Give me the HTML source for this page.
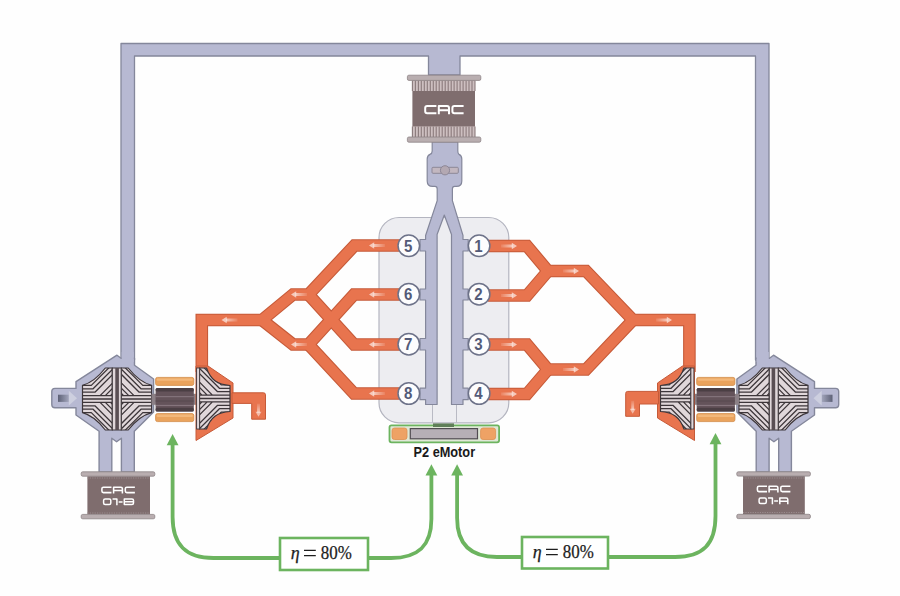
<!DOCTYPE html>
<html><head><meta charset="utf-8"><title>Turbo diagram</title>
<style>html,body{margin:0;padding:0;background:#fefefe;}body{width:900px;height:596px;overflow:hidden;font-family:"Liberation Sans",sans-serif;}svg{display:block}</style>
</head><body>
<svg width="900" height="596" viewBox="0 0 900 596">
<defs>
<linearGradient id="ga" x1="0" x2="1"><stop offset="0" stop-color="#fff" stop-opacity="0.1"/><stop offset="1" stop-color="#fff" stop-opacity="0.6"/></linearGradient>
<linearGradient id="gin" x1="0" x2="1"><stop offset="0" stop-color="#5d6176"/><stop offset="1" stop-color="#a4a7bd"/></linearGradient>
</defs>
<rect width="900" height="596" fill="#fefefe"/>
<rect x="379" y="217.5" width="129.8" height="205.3" rx="20" fill="#ededf1" stroke="#b4b5c0" stroke-width="1.2"/>
<path d="M432.5,404V422.5M456.5,404V422.5" stroke="#b9bac4" stroke-width="1" fill="none"/>
<path d="M121,43.5H769V360H755.5V56H460V75H428.5V56H134.5V360H121Z" fill="#b7b9d2" stroke="#84879b" stroke-width="1.3" stroke-linejoin="round"/>
<path d="M400,245.5H354.5L308.5,294.5H293L262,320H201.8V372" fill="none" stroke="#c65a38" stroke-width="12.6" stroke-linejoin="miter"/>
<path d="M400,344.5H354L308.5,294.5" fill="none" stroke="#c65a38" stroke-width="12.6" stroke-linejoin="miter"/>
<path d="M400,294.5H354L308.5,344.5H293L262,320" fill="none" stroke="#c65a38" stroke-width="12.6" stroke-linejoin="miter"/>
<path d="M400,393.5H354L308.5,344.5" fill="none" stroke="#c65a38" stroke-width="12.6" stroke-linejoin="miter"/>
<path d="M488,246H527L548,271H586L633,320H689.4V372" fill="none" stroke="#c65a38" stroke-width="12.6" stroke-linejoin="miter"/>
<path d="M488,295.5H527L548,271" fill="none" stroke="#c65a38" stroke-width="12.6" stroke-linejoin="miter"/>
<path d="M488,344.5H527L548,369.5H586L633,320" fill="none" stroke="#c65a38" stroke-width="12.6" stroke-linejoin="miter"/>
<path d="M488,394H527L548,369.5" fill="none" stroke="#c65a38" stroke-width="12.6" stroke-linejoin="miter"/>
<path d="M400,245.5H354.5L308.5,294.5H293L262,320H201.8V372" fill="none" stroke="#e8744e" stroke-width="10.399999999999999" stroke-linejoin="miter"/>
<path d="M400,344.5H354L308.5,294.5" fill="none" stroke="#e8744e" stroke-width="10.399999999999999" stroke-linejoin="miter"/>
<path d="M400,294.5H354L308.5,344.5H293L262,320" fill="none" stroke="#e8744e" stroke-width="10.399999999999999" stroke-linejoin="miter"/>
<path d="M400,393.5H354L308.5,344.5" fill="none" stroke="#e8744e" stroke-width="10.399999999999999" stroke-linejoin="miter"/>
<path d="M488,246H527L548,271H586L633,320H689.4V372" fill="none" stroke="#e8744e" stroke-width="10.399999999999999" stroke-linejoin="miter"/>
<path d="M488,295.5H527L548,271" fill="none" stroke="#e8744e" stroke-width="10.399999999999999" stroke-linejoin="miter"/>
<path d="M488,344.5H527L548,369.5H586L633,320" fill="none" stroke="#e8744e" stroke-width="10.399999999999999" stroke-linejoin="miter"/>
<path d="M488,394H527L548,369.5" fill="none" stroke="#e8744e" stroke-width="10.399999999999999" stroke-linejoin="miter"/>
<g transform="translate(369,245.5) scale(-1,1)"><rect x="-16" y="-1.5" width="11.5" height="3" fill="url(#ga)"/><path d="M-5.2,-3.2L0,0L-5.2,3.2Z" fill="#fff" opacity="0.62"/></g>
<g transform="translate(369,294.5) scale(-1,1)"><rect x="-16" y="-1.5" width="11.5" height="3" fill="url(#ga)"/><path d="M-5.2,-3.2L0,0L-5.2,3.2Z" fill="#fff" opacity="0.62"/></g>
<g transform="translate(369,344.5) scale(-1,1)"><rect x="-16" y="-1.5" width="11.5" height="3" fill="url(#ga)"/><path d="M-5.2,-3.2L0,0L-5.2,3.2Z" fill="#fff" opacity="0.62"/></g>
<g transform="translate(369,393.5) scale(-1,1)"><rect x="-16" y="-1.5" width="11.5" height="3" fill="url(#ga)"/><path d="M-5.2,-3.2L0,0L-5.2,3.2Z" fill="#fff" opacity="0.62"/></g>
<g transform="translate(291,294.5) scale(-1,1)"><rect x="-16" y="-1.5" width="11.5" height="3" fill="url(#ga)"/><path d="M-5.2,-3.2L0,0L-5.2,3.2Z" fill="#fff" opacity="0.62"/></g>
<g transform="translate(291,344.5) scale(-1,1)"><rect x="-16" y="-1.5" width="11.5" height="3" fill="url(#ga)"/><path d="M-5.2,-3.2L0,0L-5.2,3.2Z" fill="#fff" opacity="0.62"/></g>
<g transform="translate(221.5,320) scale(-1,1)"><rect x="-16" y="-1.5" width="11.5" height="3" fill="url(#ga)"/><path d="M-5.2,-3.2L0,0L-5.2,3.2Z" fill="#fff" opacity="0.62"/></g>
<g transform="translate(517,246) scale(1,1)"><rect x="-16" y="-1.5" width="11.5" height="3" fill="url(#ga)"/><path d="M-5.2,-3.2L0,0L-5.2,3.2Z" fill="#fff" opacity="0.62"/></g>
<g transform="translate(517,295.5) scale(1,1)"><rect x="-16" y="-1.5" width="11.5" height="3" fill="url(#ga)"/><path d="M-5.2,-3.2L0,0L-5.2,3.2Z" fill="#fff" opacity="0.62"/></g>
<g transform="translate(517,344.5) scale(1,1)"><rect x="-16" y="-1.5" width="11.5" height="3" fill="url(#ga)"/><path d="M-5.2,-3.2L0,0L-5.2,3.2Z" fill="#fff" opacity="0.62"/></g>
<g transform="translate(517,394) scale(1,1)"><rect x="-16" y="-1.5" width="11.5" height="3" fill="url(#ga)"/><path d="M-5.2,-3.2L0,0L-5.2,3.2Z" fill="#fff" opacity="0.62"/></g>
<g transform="translate(579,271) scale(1,1)"><rect x="-16" y="-1.5" width="11.5" height="3" fill="url(#ga)"/><path d="M-5.2,-3.2L0,0L-5.2,3.2Z" fill="#fff" opacity="0.62"/></g>
<g transform="translate(579,369.5) scale(1,1)"><rect x="-16" y="-1.5" width="11.5" height="3" fill="url(#ga)"/><path d="M-5.2,-3.2L0,0L-5.2,3.2Z" fill="#fff" opacity="0.62"/></g>
<g transform="translate(672,320) scale(1,1)"><rect x="-16" y="-1.5" width="11.5" height="3" fill="url(#ga)"/><path d="M-5.2,-3.2L0,0L-5.2,3.2Z" fill="#fff" opacity="0.62"/></g>
<path d="M432.2,142V151Q432.2,153.6 430,154.4Q427.2,155.6 427.2,159V181Q427.2,186.4 432.6,186.4H435Q437.2,186.4 437.2,189V200.6L425.6,235.5V239.5H420V251H425.6V289H420V300H425.6V338.5H420V350H425.6V388.2H420V399.7H425.6V404.5H437.1V234.5L444.3,215L451.5,234.5V404.5H463V399.7H468.2V388.2H463V350H468.2V338.5H463V300H468.2V289H463V251H468.2V239.5H463V235.5L452.4,200.6V189Q452.4,186.4 454.6,186.4H456.4Q461.8,186.4 461.8,181V159Q461.8,155.6 459,154.4Q457.8,153.6 457.8,151V142Z" fill="#b7b9d2" stroke="#84879b" stroke-width="1.2" stroke-linejoin="round"/>
<rect x="432" y="167.3" width="26.3" height="6" rx="1" fill="#c2b7c0" stroke="#8d8797" stroke-width="1"/>
<circle cx="445" cy="170.3" r="4.6" fill="#b3a8b2" stroke="#8d8797" stroke-width="1"/>
<circle cx="408.8" cy="245.8" r="10.75" fill="#fdfdfe" stroke="#6d7289" stroke-width="1.5"/>
<text transform="translate(408.2,251.70000000000002) scale(0.93,1)" text-anchor="middle" font-family="Liberation Sans, sans-serif" font-weight="700" font-size="16.2" fill="#535a78">5</text>
<circle cx="479.1" cy="245.8" r="10.75" fill="#fdfdfe" stroke="#6d7289" stroke-width="1.5"/>
<text transform="translate(478.5,251.70000000000002) scale(0.93,1)" text-anchor="middle" font-family="Liberation Sans, sans-serif" font-weight="700" font-size="16.2" fill="#535a78">1</text>
<circle cx="408.8" cy="294.2" r="10.75" fill="#fdfdfe" stroke="#6d7289" stroke-width="1.5"/>
<text transform="translate(408.2,300.09999999999997) scale(0.93,1)" text-anchor="middle" font-family="Liberation Sans, sans-serif" font-weight="700" font-size="16.2" fill="#535a78">6</text>
<circle cx="479.1" cy="294.2" r="10.75" fill="#fdfdfe" stroke="#6d7289" stroke-width="1.5"/>
<text transform="translate(478.5,300.09999999999997) scale(0.93,1)" text-anchor="middle" font-family="Liberation Sans, sans-serif" font-weight="700" font-size="16.2" fill="#535a78">2</text>
<circle cx="408.8" cy="344.2" r="10.75" fill="#fdfdfe" stroke="#6d7289" stroke-width="1.5"/>
<text transform="translate(408.2,350.09999999999997) scale(0.93,1)" text-anchor="middle" font-family="Liberation Sans, sans-serif" font-weight="700" font-size="16.2" fill="#535a78">7</text>
<circle cx="479.1" cy="344.2" r="10.75" fill="#fdfdfe" stroke="#6d7289" stroke-width="1.5"/>
<text transform="translate(478.5,350.09999999999997) scale(0.93,1)" text-anchor="middle" font-family="Liberation Sans, sans-serif" font-weight="700" font-size="16.2" fill="#535a78">3</text>
<circle cx="408.8" cy="393.5" r="10.75" fill="#fdfdfe" stroke="#6d7289" stroke-width="1.5"/>
<text transform="translate(408.2,399.4) scale(0.93,1)" text-anchor="middle" font-family="Liberation Sans, sans-serif" font-weight="700" font-size="16.2" fill="#535a78">8</text>
<circle cx="479.1" cy="393.5" r="10.75" fill="#fdfdfe" stroke="#6d7289" stroke-width="1.5"/>
<text transform="translate(478.5,399.4) scale(0.93,1)" text-anchor="middle" font-family="Liberation Sans, sans-serif" font-weight="700" font-size="16.2" fill="#535a78">4</text>
<rect x="412.4" y="80.4" width="62.60000000000002" height="56.59999999999999" fill="#7f6d6e"/>
<rect x="412.4" y="80.4" width="62.60000000000002" height="10.6" fill="#cdbfc0"/>
<path d="M412.4,80.4V91.0M415.4,80.4V91.0M418.4,80.4V91.0M421.3,80.4V91.0M424.3,80.4V91.0M427.3,80.4V91.0M430.3,80.4V91.0M433.3,80.4V91.0M436.2,80.4V91.0M439.2,80.4V91.0M442.2,80.4V91.0M445.2,80.4V91.0M448.2,80.4V91.0M451.2,80.4V91.0M454.1,80.4V91.0M457.1,80.4V91.0M460.1,80.4V91.0M463.1,80.4V91.0M466.1,80.4V91.0M469.0,80.4V91.0M472.0,80.4V91.0M475.0,80.4V91.0" stroke="#8a7a7b" stroke-width="1.1" fill="none"/>
<rect x="412.4" y="126.4" width="62.60000000000002" height="10.6" fill="#cdbfc0"/>
<path d="M412.4,126.4V137.0M415.4,126.4V137.0M418.4,126.4V137.0M421.3,126.4V137.0M424.3,126.4V137.0M427.3,126.4V137.0M430.3,126.4V137.0M433.3,126.4V137.0M436.2,126.4V137.0M439.2,126.4V137.0M442.2,126.4V137.0M445.2,126.4V137.0M448.2,126.4V137.0M451.2,126.4V137.0M454.1,126.4V137.0M457.1,126.4V137.0M460.1,126.4V137.0M463.1,126.4V137.0M466.1,126.4V137.0M469.0,126.4V137.0M472.0,126.4V137.0M475.0,126.4V137.0" stroke="#8a7a7b" stroke-width="1.1" fill="none"/>
<rect x="407.4" y="75.2" width="73.40000000000003" height="5.2" rx="1.5" fill="#b9aeb0" stroke="#8d8385" stroke-width="0.8"/>
<rect x="407.4" y="137.0" width="73.40000000000003" height="5.2" rx="1.5" fill="#b9aeb0" stroke="#8d8385" stroke-width="0.8"/>
<path d="M435.4,106.1H427.188Q425.2,106.1 425.2,108.088V111.21199999999999Q425.2,113.19999999999999 427.188,113.19999999999999H435.4M438.8,113.19999999999999V106.1H447.012Q449.0,106.1 449.0,108.088V113.19999999999999M438.8,110.36H449.0M462.6,106.1H454.38800000000003Q452.40000000000003,106.1 452.40000000000003,108.088V111.21199999999999Q452.40000000000003,113.19999999999999 454.38800000000003,113.19999999999999H462.6" fill="none" stroke="#fff" stroke-width="2.0" stroke-linejoin="round" stroke-linecap="square"/>
<rect x="389.5" y="425.3" width="109.6" height="17" rx="2" fill="#dfe8d6" stroke="#6cb45f" stroke-width="1.8"/>
<rect x="392" y="428" width="15" height="11.5" rx="2.5" fill="#eea265" stroke="#dd8f50" stroke-width="0.8"/>
<rect x="480.6" y="428" width="15" height="11.5" rx="2.5" fill="#eea265" stroke="#dd8f50" stroke-width="0.8"/>
<rect x="410.3" y="428.6" width="67.2" height="10.2" fill="#b6afb6" stroke="#514c52" stroke-width="1.2"/>
<rect x="433" y="423.4" width="21" height="3.6" fill="#5f7f58"/>
<text x="444.3" y="457.4" text-anchor="middle" font-family="Liberation Sans, sans-serif" font-weight="700" font-size="15" fill="#1a1a1a" textLength="61.6" lengthAdjust="spacingAndGlyphs">P2 eMotor</text>
<path d="M172.6,444V517C172.6,545 186,558 213.5,558H280" fill="none" stroke="#6cb45f" stroke-width="3.8"/>
<path d="M166.7,445.3L172.6,434L178.5,445.3Z" fill="#6cb45f"/>
<path d="M368,558H391C419,558 431.4,545 431.4,519V474" fill="none" stroke="#6cb45f" stroke-width="3.8"/>
<path d="M425.5,475.5L431.4,464.2L437.29999999999995,475.5Z" fill="#6cb45f"/>
<path d="M522,557H497C470,557 457.1,544 457.1,518V474" fill="none" stroke="#6cb45f" stroke-width="3.8"/>
<path d="M451.20000000000005,475.5L457.1,464.2L463.0,475.5Z" fill="#6cb45f"/>
<path d="M608,557H675C703,557 715.5,544 715.5,516V443" fill="none" stroke="#6cb45f" stroke-width="3.8"/>
<path d="M709.6,444.3L715.5,433L721.4,444.3Z" fill="#6cb45f"/>
<rect x="280" y="538" width="88" height="32" fill="#fff" stroke="#6cb45f" stroke-width="2.6"/>
<text x="290.8" y="558.8" font-family="Liberation Serif, serif" font-style="italic" font-size="18" fill="#1e1e1e" stroke="#1e1e1e" stroke-width="0.25">η</text>
<path d="M304,550.4h11.8M304,555.5999999999999h11.8" stroke="#1e1e1e" stroke-width="1.4" fill="none"/>
<text x="320.8" y="558.8" font-family="Liberation Serif, serif" font-size="17.8" fill="#1e1e1e" stroke="#1e1e1e" stroke-width="0.25" textLength="31" lengthAdjust="spacingAndGlyphs">80%</text>
<rect x="522" y="537" width="86" height="31.5" fill="#fff" stroke="#6cb45f" stroke-width="2.6"/>
<text x="532.8" y="557.8" font-family="Liberation Serif, serif" font-style="italic" font-size="18" fill="#1e1e1e" stroke="#1e1e1e" stroke-width="0.25">η</text>
<path d="M546,549.4h11.8M546,554.5999999999999h11.8" stroke="#1e1e1e" stroke-width="1.4" fill="none"/>
<text x="562.8" y="557.8" font-family="Liberation Serif, serif" font-size="17.8" fill="#1e1e1e" stroke="#1e1e1e" stroke-width="0.25" textLength="31" lengthAdjust="spacingAndGlyphs">80%</text>
<path d="M121,358.2L117,355.2L76,381.6V388.4H55Q51.8,388.4 51.8,391.6V404.6Q51.8,407.8 55,407.8H76V415L99.1,431.2V472H111.8V438.2L116.6,441.8L121.4,438.2V472H134.3V431.2L153.6,412V379L134.5,365.3V358.2Z" fill="#b7b9d2" stroke="#84879b" stroke-width="1.4" stroke-linejoin="round"/>
<rect x="121.7" y="352" width="12.1" height="10" fill="#b7b9d2"/>
<rect x="58" y="394.7" width="11" height="7.2" fill="url(#gin)"/>
<path d="M68.8,390.8L77,398.2L68.8,405.4Z" fill="#cdcfdf"/>
<clipPath id="La"><path d="M112.3,368H105.3Q94.4,382.1 82.5,385.3V412.7Q94.4,415.9 105.3,430H112.3Z"/></clipPath>
<path d="M112.3,368H105.3Q94.4,382.1 82.5,385.3V412.7Q94.4,415.9 105.3,430H112.3Z" fill="#e0d7da"/>
<path d="M82.5,395.6H112.3M82.5,399H112.3M82.5,402.4H112.3M74.5,392.2H94.9L154.9,332.2M74.5,405.8H94.9L154.9,465.8M74.5,388.8H93.1L153.1,328.8M74.5,409.2H93.1L153.1,469.2M74.5,385.4H91.3L151.3,325.4M74.5,412.6H91.3L151.3,472.6M74.5,382.0H89.5L149.5,322.0M74.5,416.0H89.5L149.5,476.0M74.5,378.6H87.7L147.7,318.6M74.5,419.4H87.7L147.7,479.4M74.5,375.2H85.9L145.9,315.2M74.5,422.8H85.9L145.9,482.8M74.5,371.8H84.1L144.1,311.8M74.5,426.2H84.1L144.1,486.2M74.5,368.4H82.3L142.3,308.4M74.5,429.6H82.3L142.3,489.6M100.1,395.6L160.1,335.6M100.1,402.4L160.1,462.4M105.3,395.6L165.3,335.6M105.3,402.4L165.3,462.4M110.5,395.6L170.5,335.6M110.5,402.4L170.5,462.4" fill="none" stroke="#3d363a" stroke-width="1.3" stroke-linejoin="round" clip-path="url(#La)"/>
<path d="M112.3,368H105.3Q94.4,382.1 82.5,385.3V412.7Q94.4,415.9 105.3,430H112.3Z" fill="none" stroke="#3d363a" stroke-width="1.2" stroke-linejoin="round"/>
<clipPath id="Lb"><path d="M121.2,368H128.2Q139.4,382.1 151.6,385.3V412.7Q139.4,415.9 128.2,430H121.2Z"/></clipPath>
<path d="M121.2,368H128.2Q139.4,382.1 151.6,385.3V412.7Q139.4,415.9 128.2,430H121.2Z" fill="#e0d7da"/>
<path d="M151.6,395.6H121.2M151.6,399H121.2M151.6,402.4H121.2M159.6,392.2H139.2L79.2,332.2M159.6,405.8H139.2L79.2,465.8M159.6,388.8H141.0L81.0,328.8M159.6,409.2H141.0L81.0,469.2M159.6,385.4H142.8L82.8,325.4M159.6,412.6H142.8L82.8,472.6M159.6,382.0H144.6L84.6,322.0M159.6,416.0H144.6L84.6,476.0M159.6,378.6H146.4L86.4,318.6M159.6,419.4H146.4L86.4,479.4M159.6,375.2H148.2L88.2,315.2M159.6,422.8H148.2L88.2,482.8M159.6,371.8H150.0L90.0,311.8M159.6,426.2H150.0L90.0,486.2M159.6,368.4H151.8L91.8,308.4M159.6,429.6H151.8L91.8,489.6M134.0,395.6L74.0,335.6M134.0,402.4L74.0,462.4M128.8,395.6L68.8,335.6M128.8,402.4L68.8,462.4M123.6,395.6L63.6,335.6M123.6,402.4L63.6,462.4" fill="none" stroke="#3d363a" stroke-width="1.3" stroke-linejoin="round" clip-path="url(#Lb)"/>
<path d="M121.2,368H128.2Q139.4,382.1 151.6,385.3V412.7Q139.4,415.9 128.2,430H121.2Z" fill="none" stroke="#3d363a" stroke-width="1.2" stroke-linejoin="round"/>
<rect x="112.3" y="368" width="8.9" height="62" fill="#e0d7da" stroke="#3d363a" stroke-width="1"/>
<rect x="115.3" y="368" width="3.6" height="62" fill="#5a4f54"/>
<rect x="151.5" y="393.8" width="46" height="11" fill="#8b8086"/>
<rect x="155.6" y="377.4" width="38.2" height="8" rx="1.8" fill="#eaa35d" stroke="#d28b49" stroke-width="0.8"/>
<rect x="156.6" y="378.4" width="36.2" height="2.4" rx="1" fill="#f5bd82" opacity="0.8"/>
<rect x="155.6" y="413.6" width="38.2" height="8" rx="1.8" fill="#eaa35d" stroke="#d28b49" stroke-width="0.8"/>
<rect x="156.6" y="414.6" width="36.2" height="2.4" rx="1" fill="#f5bd82" opacity="0.8"/>
<rect x="155.6" y="388" width="38.2" height="23.4" rx="1.5" fill="#64535a"/>
<rect x="155.6" y="388" width="38.2" height="3.6" rx="1.5" fill="#4b3f44"/>
<rect x="155.6" y="407.8" width="38.2" height="3.6" rx="1.5" fill="#4b3f44"/>
<path d="M155.6,396.7H193.8M155.6,405.4H193.8" stroke="#94848b" stroke-width="0.8"/>
<path d="M155.6,401H193.8" stroke="#54464b" stroke-width="0.8"/>
<path d="M196,366H208L233,383V418L196,440.5Z" fill="#e8744e" stroke="#c65a38" stroke-width="1"/>
<path d="M232,392.8H263.5Q265.5,392.8 265.5,394.8V419.2H251.7V403.4H232Z" fill="#e8744e" stroke="#c65a38" stroke-width="1"/>
<g transform="translate(258.5,416.7) rotate(90)"><rect x="-13" y="-1.4" width="9" height="2.8" fill="url(#ga)"/><path d="M-5,-3L0,0L-5,3Z" fill="#fff" opacity="0.5"/></g>
<clipPath id="Lc"><path d="M199.5,368.0H206.5C210.5,379.5 217.2,384.7 230.0,385.5V411.5C217.2,412.3 210.5,417.5 206.5,429.0H199.5Z"/></clipPath>
<path d="M199.5,368.0H206.5C210.5,379.5 217.2,384.7 230.0,385.5V411.5C217.2,412.3 210.5,417.5 206.5,429.0H199.5Z" fill="#e0d7da"/>
<path d="M230.0,395.1H199.5M230.0,398.5H199.5M230.0,401.9H199.5M238.0,391.7H217.6L157.6,331.7M238.0,405.3H217.6L157.6,465.3M238.0,388.3H219.4L159.4,328.3M238.0,408.7H219.4L159.4,468.7M238.0,384.9H221.2L161.2,324.9M238.0,412.1H221.2L161.2,472.1M238.0,381.5H223.0L163.0,321.5M238.0,415.5H223.0L163.0,475.5M238.0,378.1H224.8L164.8,318.1M238.0,418.9H224.8L164.8,478.9M238.0,374.7H226.6L166.6,314.7M238.0,422.3H226.6L166.6,482.3M238.0,371.3H228.4L168.4,311.3M238.0,425.7H228.4L168.4,485.7M238.0,367.9H230.2L170.2,307.9M238.0,429.1H230.2L170.2,489.1M212.4,395.1L152.4,335.1M212.4,401.9L152.4,461.9M207.2,395.1L147.2,335.1M207.2,401.9L147.2,461.9M202.0,395.1L142.0,335.1M202.0,401.9L142.0,461.9" fill="none" stroke="#3d363a" stroke-width="1.3" stroke-linejoin="round" clip-path="url(#Lc)"/>
<path d="M199.5,368.0H206.5C210.5,379.5 217.2,384.7 230.0,385.5V411.5C217.2,412.3 210.5,417.5 206.5,429.0H199.5Z" fill="none" stroke="#3d363a" stroke-width="1.2" stroke-linejoin="round"/>
<rect x="196.6" y="368" width="3" height="61" fill="#e0d7da" stroke="#3d363a" stroke-width="0.9"/>
<g transform="translate(890.5,0) scale(-1,1)">
<path d="M121,358.2L117,355.2L76,381.6V388.4H55Q51.8,388.4 51.8,391.6V404.6Q51.8,407.8 55,407.8H76V415L99.1,431.2V472H111.8V438.2L116.6,441.8L121.4,438.2V472H134.3V431.2L153.6,412V379L134.5,365.3V358.2Z" fill="#b7b9d2" stroke="#84879b" stroke-width="1.4" stroke-linejoin="round"/>
<rect x="121.7" y="352" width="12.1" height="10" fill="#b7b9d2"/>
<rect x="58" y="394.7" width="11" height="7.2" fill="url(#gin)"/>
<path d="M68.8,390.8L77,398.2L68.8,405.4Z" fill="#cdcfdf"/>
<clipPath id="Ra"><path d="M112.3,368H105.3Q94.4,382.1 82.5,385.3V412.7Q94.4,415.9 105.3,430H112.3Z"/></clipPath>
<path d="M112.3,368H105.3Q94.4,382.1 82.5,385.3V412.7Q94.4,415.9 105.3,430H112.3Z" fill="#e0d7da"/>
<path d="M82.5,395.6H112.3M82.5,399H112.3M82.5,402.4H112.3M74.5,392.2H94.9L154.9,332.2M74.5,405.8H94.9L154.9,465.8M74.5,388.8H93.1L153.1,328.8M74.5,409.2H93.1L153.1,469.2M74.5,385.4H91.3L151.3,325.4M74.5,412.6H91.3L151.3,472.6M74.5,382.0H89.5L149.5,322.0M74.5,416.0H89.5L149.5,476.0M74.5,378.6H87.7L147.7,318.6M74.5,419.4H87.7L147.7,479.4M74.5,375.2H85.9L145.9,315.2M74.5,422.8H85.9L145.9,482.8M74.5,371.8H84.1L144.1,311.8M74.5,426.2H84.1L144.1,486.2M74.5,368.4H82.3L142.3,308.4M74.5,429.6H82.3L142.3,489.6M100.1,395.6L160.1,335.6M100.1,402.4L160.1,462.4M105.3,395.6L165.3,335.6M105.3,402.4L165.3,462.4M110.5,395.6L170.5,335.6M110.5,402.4L170.5,462.4" fill="none" stroke="#3d363a" stroke-width="1.3" stroke-linejoin="round" clip-path="url(#Ra)"/>
<path d="M112.3,368H105.3Q94.4,382.1 82.5,385.3V412.7Q94.4,415.9 105.3,430H112.3Z" fill="none" stroke="#3d363a" stroke-width="1.2" stroke-linejoin="round"/>
<clipPath id="Rb"><path d="M121.2,368H128.2Q139.4,382.1 151.6,385.3V412.7Q139.4,415.9 128.2,430H121.2Z"/></clipPath>
<path d="M121.2,368H128.2Q139.4,382.1 151.6,385.3V412.7Q139.4,415.9 128.2,430H121.2Z" fill="#e0d7da"/>
<path d="M151.6,395.6H121.2M151.6,399H121.2M151.6,402.4H121.2M159.6,392.2H139.2L79.2,332.2M159.6,405.8H139.2L79.2,465.8M159.6,388.8H141.0L81.0,328.8M159.6,409.2H141.0L81.0,469.2M159.6,385.4H142.8L82.8,325.4M159.6,412.6H142.8L82.8,472.6M159.6,382.0H144.6L84.6,322.0M159.6,416.0H144.6L84.6,476.0M159.6,378.6H146.4L86.4,318.6M159.6,419.4H146.4L86.4,479.4M159.6,375.2H148.2L88.2,315.2M159.6,422.8H148.2L88.2,482.8M159.6,371.8H150.0L90.0,311.8M159.6,426.2H150.0L90.0,486.2M159.6,368.4H151.8L91.8,308.4M159.6,429.6H151.8L91.8,489.6M134.0,395.6L74.0,335.6M134.0,402.4L74.0,462.4M128.8,395.6L68.8,335.6M128.8,402.4L68.8,462.4M123.6,395.6L63.6,335.6M123.6,402.4L63.6,462.4" fill="none" stroke="#3d363a" stroke-width="1.3" stroke-linejoin="round" clip-path="url(#Rb)"/>
<path d="M121.2,368H128.2Q139.4,382.1 151.6,385.3V412.7Q139.4,415.9 128.2,430H121.2Z" fill="none" stroke="#3d363a" stroke-width="1.2" stroke-linejoin="round"/>
<rect x="112.3" y="368" width="8.9" height="62" fill="#e0d7da" stroke="#3d363a" stroke-width="1"/>
<rect x="115.3" y="368" width="3.6" height="62" fill="#5a4f54"/>
<rect x="151.5" y="393.8" width="46" height="11" fill="#8b8086"/>
<rect x="155.6" y="377.4" width="38.2" height="8" rx="1.8" fill="#eaa35d" stroke="#d28b49" stroke-width="0.8"/>
<rect x="156.6" y="378.4" width="36.2" height="2.4" rx="1" fill="#f5bd82" opacity="0.8"/>
<rect x="155.6" y="413.6" width="38.2" height="8" rx="1.8" fill="#eaa35d" stroke="#d28b49" stroke-width="0.8"/>
<rect x="156.6" y="414.6" width="36.2" height="2.4" rx="1" fill="#f5bd82" opacity="0.8"/>
<rect x="155.6" y="388" width="38.2" height="23.4" rx="1.5" fill="#64535a"/>
<rect x="155.6" y="388" width="38.2" height="3.6" rx="1.5" fill="#4b3f44"/>
<rect x="155.6" y="407.8" width="38.2" height="3.6" rx="1.5" fill="#4b3f44"/>
<path d="M155.6,396.7H193.8M155.6,405.4H193.8" stroke="#94848b" stroke-width="0.8"/>
<path d="M155.6,401H193.8" stroke="#54464b" stroke-width="0.8"/>
<path d="M196,366H208L233,383V418L196,440.5Z" fill="#e8744e" stroke="#c65a38" stroke-width="1"/>
<path d="M232,391.4H262.8Q264.8,391.4 264.8,393.4V416.3H251.0V404H232Z" fill="#e8744e" stroke="#c65a38" stroke-width="1"/>
<g transform="translate(257.8,413.8) rotate(90)"><rect x="-13" y="-1.4" width="9" height="2.8" fill="url(#ga)"/><path d="M-5,-3L0,0L-5,3Z" fill="#fff" opacity="0.5"/></g>
<clipPath id="Rc"><path d="M199.5,368.0H206.5C210.5,379.5 217.2,384.7 230.0,385.5V411.5C217.2,412.3 210.5,417.5 206.5,429.0H199.5Z"/></clipPath>
<path d="M199.5,368.0H206.5C210.5,379.5 217.2,384.7 230.0,385.5V411.5C217.2,412.3 210.5,417.5 206.5,429.0H199.5Z" fill="#e0d7da"/>
<path d="M230.0,395.1H199.5M230.0,398.5H199.5M230.0,401.9H199.5M238.0,391.7H217.6L157.6,331.7M238.0,405.3H217.6L157.6,465.3M238.0,388.3H219.4L159.4,328.3M238.0,408.7H219.4L159.4,468.7M238.0,384.9H221.2L161.2,324.9M238.0,412.1H221.2L161.2,472.1M238.0,381.5H223.0L163.0,321.5M238.0,415.5H223.0L163.0,475.5M238.0,378.1H224.8L164.8,318.1M238.0,418.9H224.8L164.8,478.9M238.0,374.7H226.6L166.6,314.7M238.0,422.3H226.6L166.6,482.3M238.0,371.3H228.4L168.4,311.3M238.0,425.7H228.4L168.4,485.7M238.0,367.9H230.2L170.2,307.9M238.0,429.1H230.2L170.2,489.1M212.4,395.1L152.4,335.1M212.4,401.9L152.4,461.9M207.2,395.1L147.2,335.1M207.2,401.9L147.2,461.9M202.0,395.1L142.0,335.1M202.0,401.9L142.0,461.9" fill="none" stroke="#3d363a" stroke-width="1.3" stroke-linejoin="round" clip-path="url(#Rc)"/>
<path d="M199.5,368.0H206.5C210.5,379.5 217.2,384.7 230.0,385.5V411.5C217.2,412.3 210.5,417.5 206.5,429.0H199.5Z" fill="none" stroke="#3d363a" stroke-width="1.2" stroke-linejoin="round"/>
<rect x="196.6" y="368" width="3" height="61" fill="#e0d7da" stroke="#3d363a" stroke-width="0.9"/>
</g>
<rect x="87.4" y="476.2" width="62.599999999999994" height="38.199999999999946" fill="#7f6d6e"/>
<rect x="81.2" y="471.8" width="73.60000000000001" height="4.4" rx="1.5" fill="#b9aeb0" stroke="#8d8385" stroke-width="0.8"/>
<rect x="81.2" y="514.4" width="73.60000000000001" height="4.4" rx="1.5" fill="#b9aeb0" stroke="#8d8385" stroke-width="0.8"/>
<path d="M87.4,478H150M87.4,513H150" stroke="#9a8c8e" stroke-width="1.2" stroke-dasharray="1.2 1.2"/>
<path d="M110.7,487.2H103.412Q101.9,487.2 101.9,488.712V491.08799999999997Q101.9,492.59999999999997 103.412,492.59999999999997H110.7M113.60000000000001,492.59999999999997V487.2H120.888Q122.4,487.2 122.4,488.712V492.59999999999997M113.60000000000001,490.44H122.4M134.10000000000002,487.2H126.81200000000001Q125.30000000000001,487.2 125.30000000000001,488.712V491.08799999999997Q125.30000000000001,492.59999999999997 126.81200000000001,492.59999999999997H134.10000000000002" fill="none" stroke="#fff" stroke-width="1.55" stroke-linejoin="round" stroke-linecap="square"/>
<path d="M105.112,499H109.288Q110.8,499 110.8,500.512V502.888Q110.8,504.4 109.288,504.4H105.112Q103.6,504.4 103.6,502.888V500.512Q103.6,499 105.112,499ZM113.3,499H116.89999999999999V504.4M119.39999999999999,501.97H121.8M124.3,499H131.988Q133.5,499 133.5,500.512V502.888Q133.5,504.4 131.988,504.4H124.3ZM124.3,501.7H133.5" fill="none" stroke="#fff" stroke-width="1.5" stroke-linejoin="round" stroke-linecap="square"/>
<rect x="743" y="476.1" width="61.799999999999955" height="38.20000000000001" fill="#7f6d6e"/>
<rect x="736.8" y="471.8" width="73.60000000000002" height="4.3" rx="1.5" fill="#b9aeb0" stroke="#8d8385" stroke-width="0.8"/>
<rect x="736.8" y="514.3000000000001" width="73.60000000000002" height="4.3" rx="1.5" fill="#b9aeb0" stroke="#8d8385" stroke-width="0.8"/>
<path d="M743,478H804.8M743,512.5H804.8" stroke="#9a8c8e" stroke-width="1.2" stroke-dasharray="1.2 1.2"/>
<path d="M766.1999999999999,486.2H758.9119999999999Q757.4,486.2 757.4,487.712V490.08799999999997Q757.4,491.59999999999997 758.9119999999999,491.59999999999997H766.1999999999999M769.1,491.59999999999997V486.2H776.388Q777.9,486.2 777.9,487.712V491.59999999999997M769.1,489.44H777.9M789.6,486.2H782.312Q780.8000000000001,486.2 780.8000000000001,487.712V490.08799999999997Q780.8000000000001,491.59999999999997 782.312,491.59999999999997H789.6" fill="none" stroke="#fff" stroke-width="1.55" stroke-linejoin="round" stroke-linecap="square"/>
<path d="M760.612,498H764.7880000000001Q766.3000000000001,498 766.3000000000001,499.512V501.888Q766.3000000000001,503.4 764.7880000000001,503.4H760.612Q759.1,503.4 759.1,501.888V499.512Q759.1,498 760.612,498ZM768.8000000000001,498H772.4000000000001V503.4M774.9000000000001,500.97H777.3000000000001M779.8000000000001,503.4V498H786.2880000000001Q787.8000000000001,498 787.8000000000001,499.512V503.4M779.8000000000001,501.24H787.8000000000001" fill="none" stroke="#fff" stroke-width="1.5" stroke-linejoin="round" stroke-linecap="square"/>
</svg>
</body></html>
